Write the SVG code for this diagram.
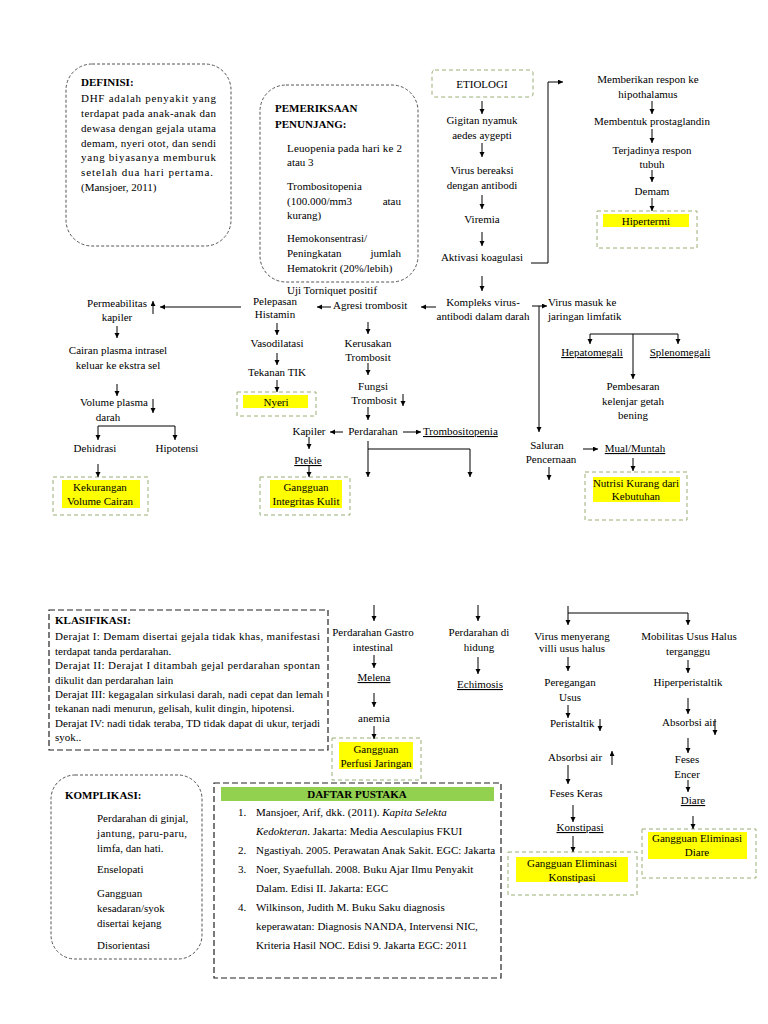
<svg xmlns="http://www.w3.org/2000/svg" width="768" height="1024" viewBox="0 0 768 1024">
<style>
.t{font-family:"Liberation Serif","Times New Roman",serif;font-size:11px;fill:#000}
.c{text-anchor:middle}
.e{text-anchor:end}
.b{font-weight:bold}
.u{text-decoration:underline}
.rb{fill:none;stroke:#555;stroke-dasharray:3 2;stroke-width:1}
.gb{fill:none;stroke:#9aae74;stroke-dasharray:4 3;stroke-width:1}
.kb{fill:none;stroke:#222;stroke-dasharray:6 3;stroke-width:1.2}
.hl{fill:#ffff00}
.ln{fill:none;stroke:#000;stroke-width:1}
.ar{marker-end:url(#ah)}
</style>
<defs>
<marker id="ah" markerWidth="6" markerHeight="6" refX="5" refY="2.5" orient="auto" markerUnits="userSpaceOnUse"><path d="M0,0 L5,2.5 L0,5 z" fill="#000"/></marker>
</defs>
<rect width="768" height="1024" fill="#fff"/>

<g id="definisi">
<rect class="rb" x="66" y="64" width="165" height="182" rx="26"/>
<text class="t b" x="81" y="86">DEFINISI:</text>
<text class="t" x="81" y="102" textLength="135">DHF adalah penyakit yang</text>
<text class="t" x="81" y="117" textLength="135">terdapat pada anak-anak dan</text>
<text class="t" x="81" y="132" textLength="135">dewasa dengan gejala utama</text>
<text class="t" x="81" y="147" textLength="135">demam, nyeri otot, dan sendi</text>
<text class="t" x="81" y="161" textLength="135">yang biyasanya memburuk</text>
<text class="t" x="81" y="176" textLength="132">setelah dua hari pertama.</text>
<text class="t" x="81" y="191">(Mansjoer, 2011)</text>
</g>

<g id="pemeriksaan">
<rect class="rb" x="260" y="85" width="158" height="197" rx="26"/>
<text class="t b" x="275" y="112">PEMERIKSAAN</text>
<text class="t b" x="275" y="128">PENUNJANG:</text>
<text class="t" x="287" y="152" textLength="115">Leuopenia pada hari ke 2</text>
<text class="t" x="287" y="166">atau 3</text>
<text class="t" x="287" y="190">Trombositopenia</text>
<text class="t" x="287" y="205">(100.000/mm3</text>
<text class="t e" x="401" y="205">atau</text>
<text class="t" x="287" y="219">kurang)</text>
<text class="t" x="287" y="242">Hemokonsentrasi/</text>
<text class="t" x="287" y="257">Peningkatan</text>
<text class="t e" x="401" y="257">jumlah</text>
<text class="t" x="287" y="272">Hematokrit (20%/lebih)</text>
</g>

<g id="etiologi">
<rect class="gb" x="432" y="70" width="101" height="27" rx="3"/>
<text class="t c" x="482" y="88">ETIOLOGI</text>
</g>
<g id="gigitan"><text class="t c" x="482" y="124">Gigitan nyamuk</text><text class="t c" x="482" y="139">aedes aygepti</text></g>
<g id="virus-bereaksi"><text class="t c" x="482" y="174">Virus bereaksi</text><text class="t c" x="482" y="189">dengan antibodi</text></g>
<g id="viremia"><text class="t c" x="482" y="223">Viremia</text></g>
<g id="aktivasi"><text class="t c" x="482" y="261">Aktivasi koagulasi</text></g>

<g id="respon-hipothalamus"><text class="t c" x="648" y="83">Memberikan respon ke</text><text class="t c" x="648" y="98">hipothalamus</text></g>
<g id="prostaglandin"><text class="t c" x="652" y="125">Membentuk prostaglandin</text></g>
<g id="respon-tubuh"><text class="t c" x="652" y="154">Terjadinya respon</text><text class="t c" x="652" y="168">tubuh</text></g>
<g id="demam"><text class="t c" x="652" y="195">Demam</text></g>
<g id="hipertermi">
<rect class="gb" x="597" y="211" width="100" height="37"/>
<rect class="hl" x="603" y="214" width="86" height="13"/>
<text class="t c" x="646" y="225">Hipertermi</text>
</g>

<g id="uji"><text class="t" x="287" y="294">Uji Torniquet positif</text></g>
<g id="kompleks"><text class="t c" x="483" y="306">Kompleks virus-</text><text class="t c" x="483" y="320">antibodi dalam darah</text></g>
<g id="agresi"><text class="t" x="333" y="309">Agresi trombosit</text></g>
<g id="pelepasan"><text class="t c" x="275" y="305">Pelepasan</text><text class="t c" x="275" y="318">Histamin</text></g>
<g id="permeabilitas"><text class="t c" x="117" y="307">Permeabilitas</text><text class="t c" x="117" y="321">kapiler</text></g>
<g id="cairan"><text class="t c" x="118" y="354">Cairan plasma intrasel</text><text class="t c" x="118" y="369">keluar ke ekstra sel</text></g>
<g id="volume"><text class="t c" x="114" y="406">Volume plasma</text><text class="t c" x="108" y="421">darah</text></g>
<g id="dehidrasi"><text class="t c" x="95" y="452">Dehidrasi</text></g>
<g id="hipotensi"><text class="t c" x="177" y="452">Hipotensi</text></g>
<g id="kekurangan">
<rect class="gb" x="53" y="477" width="95" height="38"/>
<rect class="hl" x="62" y="480" width="78" height="28"/>
<text class="t c" x="100" y="491">Kekurangan</text>
<text class="t c" x="100" y="505">Volume Cairan</text>
</g>

<g id="vasodilatasi"><text class="t c" x="277" y="347">Vasodilatasi</text></g>
<g id="tekanan"><text class="t c" x="277" y="376">Tekanan TIK</text></g>
<g id="nyeri">
<rect class="gb" x="237" y="392" width="79" height="24"/>
<rect class="hl" x="243" y="395" width="65" height="13"/>
<text class="t c" x="276" y="406">Nyeri</text>
</g>
<g id="kerusakan"><text class="t c" x="368" y="347">Kerusakan</text><text class="t c" x="368" y="361">Trombosit</text></g>
<g id="fungsi"><text class="t c" x="373" y="390">Fungsi</text><text class="t c" x="374" y="404">Trombosit</text></g>
<g id="perdarahan"><text class="t c" x="373" y="435">Perdarahan</text></g>
<g id="kapiler"><text class="t c" x="309" y="435">Kapiler</text></g>
<g id="ptekie"><text class="t c u" x="308" y="464">Ptekie</text></g>
<g id="integritas">
<rect class="gb" x="260" y="477" width="90" height="38"/>
<rect class="hl" x="270" y="480" width="72" height="28"/>
<text class="t c" x="306" y="491">Gangguan</text>
<text class="t c" x="306" y="505">Integritas Kulit</text>
</g>
<g id="trombositopenia"><text class="t u" x="423" y="435">Trombositopenia</text></g>

<g id="virus-limfatik"><text class="t" x="548" y="306">Virus masuk ke</text><text class="t" x="548" y="320">jaringan limfatik</text></g>
<g id="hepatomegali"><text class="t c u" x="592" y="356">Hepatomegali</text></g>
<g id="splenomegali"><text class="t c u" x="680" y="356">Splenomegali</text></g>
<g id="pembesaran"><text class="t c" x="633" y="390">Pembesaran</text><text class="t c" x="633" y="405">kelenjar getah</text><text class="t c" x="633" y="419">bening</text></g>
<g id="saluran"><text class="t c" x="547" y="449">Saluran</text><text class="t c" x="551" y="463">Pencernaan</text></g>
<g id="mual"><text class="t c u" x="635" y="452">Mual/Muntah</text></g>
<g id="nutrisi">
<rect class="gb" x="585" y="472" width="102" height="48"/>
<rect class="hl" x="593" y="477" width="87" height="25"/>
<text class="t c" x="636" y="487">Nutrisi Kurang dari</text>
<text class="t c" x="636" y="500">Kebutuhan</text>
</g>

<g id="klasifikasi">
<rect class="kb" x="49" y="610" width="279" height="140"/>
<text class="t b" x="55" y="624">KLASIFIKASI:</text>
<text class="t" x="55" y="640" textLength="265">Derajat I: Demam disertai gejala tidak khas, manifestasi</text>
<text class="t" x="55" y="655">terdapat tanda perdarahan.</text>
<text class="t" x="55" y="669" textLength="265">Derajat II: Derajat I ditambah gejal perdarahan spontan</text>
<text class="t" x="55" y="684">dikulit dan perdarahan lain</text>
<text class="t" x="55" y="698" textLength="268">Derajat III: kegagalan sirkulasi darah, nadi cepat dan lemah</text>
<text class="t" x="55" y="712">tekanan nadi menurun, gelisah, kulit dingin, hipotensi.</text>
<text class="t" x="55" y="727" textLength="265">Derajat IV: nadi tidak teraba, TD tidak dapat di ukur, terjadi</text>
<text class="t" x="55" y="741">syok..</text>
</g>

<g id="perdarahan-gastro"><text class="t c" x="373" y="636">Perdarahan Gastro</text><text class="t c" x="373" y="651">intestinal</text></g>
<g id="melena"><text class="t c u" x="374" y="681">Melena</text></g>
<g id="anemia"><text class="t c" x="374" y="722">anemia</text></g>
<g id="perfusi">
<rect class="gb" x="332" y="738" width="89" height="42"/>
<rect class="hl" x="339" y="742" width="74" height="27"/>
<text class="t c" x="376" y="753">Gangguan</text>
<text class="t c" x="376" y="767">Perfusi Jaringan</text>
</g>
<g id="perdarahan-hidung"><text class="t c" x="479" y="636">Perdarahan di</text><text class="t c" x="479" y="651">hidung</text></g>
<g id="echimosis"><text class="t c u" x="480" y="688">Echimosis</text></g>

<g id="virus-villi"><text class="t c" x="572" y="640">Virus menyerang</text><text class="t c" x="572" y="652">villi usus halus</text></g>
<g id="peregangan"><text class="t c" x="570" y="686">Peregangan</text><text class="t c" x="570" y="701">Usus</text></g>
<g id="peristaltik"><text class="t" x="550" y="727">Peristaltik</text></g>
<g id="absorbsi1"><text class="t" x="548" y="761">Absorbsi air</text></g>
<g id="feses-keras"><text class="t c" x="576" y="797">Feses Keras</text></g>
<g id="konstipasi"><text class="t c u" x="580" y="831">Konstipasi</text></g>
<g id="elim-konstipasi">
<rect class="gb" x="508" y="852" width="129" height="43"/>
<rect class="hl" x="516" y="857" width="112" height="25"/>
<text class="t c" x="572" y="867">Gangguan Eliminasi</text>
<text class="t c" x="572" y="881">Konstipasi</text>
</g>

<g id="mobilitas"><text class="t c" x="689" y="640">Mobilitas Usus Halus</text><text class="t c" x="688" y="655">terganggu</text></g>
<g id="hiperperistaltik"><text class="t c" x="688" y="686">Hiperperistaltik</text></g>
<g id="absorbsi2"><text class="t" x="662" y="726">Absorbsi air</text></g>
<g id="feses-encer"><text class="t c" x="687" y="763">Feses</text><text class="t c" x="687" y="778">Encer</text></g>
<g id="diare"><text class="t c u" x="693" y="804">Diare</text></g>
<g id="elim-diare">
<rect class="gb" x="642" y="829" width="114" height="49"/>
<rect class="hl" x="648" y="832" width="99" height="27"/>
<text class="t c" x="697" y="842">Gangguan Eliminasi</text>
<text class="t c" x="697" y="856">Diare</text>
</g>

<g id="komplikasi">
<rect class="rb" x="51" y="775" width="151" height="184" rx="24"/>
<text class="t b" x="65" y="799">KOMPLIKASI:</text>
<text class="t" x="97" y="822">Perdarahan di ginjal,</text>
<text class="t" x="97" y="837" textLength="90">jantung, paru-paru,</text>
<text class="t" x="97" y="852">limfa, dan hati.</text>
<text class="t" x="97" y="873">Enselopati</text>
<text class="t" x="97" y="897">Gangguan</text>
<text class="t" x="97" y="912">kesadaran/syok</text>
<text class="t" x="97" y="927">disertai kejang</text>
<text class="t" x="97" y="949">Disorientasi</text>
</g>

<g id="daftar-pustaka">
<rect class="kb" x="214" y="783" width="287" height="195"/>
<rect x="221" y="787" width="273" height="14" fill="#92d050"/>
<text class="t b c" x="357" y="798">DAFTAR PUSTAKA</text>
<text class="t" x="238" y="816">1.</text>
<text class="t" x="256" y="816">Mansjoer, Arif, dkk. (2011). <tspan font-style="italic">Kapita Selekta</tspan></text>
<text class="t" x="256" y="835"><tspan font-style="italic">Kedokteran</tspan>. Jakarta: Media Aesculapius FKUI</text>
<text class="t" x="238" y="854">2.</text>
<text class="t" x="256" y="854">Ngastiyah. 2005. Perawatan Anak Sakit. EGC: Jakarta</text>
<text class="t" x="238" y="873">3.</text>
<text class="t" x="256" y="873">Noer, Syaefullah. 2008. Buku Ajar Ilmu Penyakit</text>
<text class="t" x="256" y="892">Dalam. Edisi II. Jakarta: EGC</text>
<text class="t" x="238" y="911">4.</text>
<text class="t" x="256" y="911">Wilkinson, Judith M. Buku Saku diagnosis</text>
<text class="t" x="256" y="930">keperawatan: Diagnosis NANDA, Intervensi NIC,</text>
<text class="t" x="256" y="949">Kriteria Hasil NOC. Edisi 9. Jakarta EGC: 2011</text>
</g>

<g id="connectors">
<line class="ln ar" x1="482" y1="101" x2="482" y2="114"/>
<line class="ln ar" x1="482" y1="143" x2="482" y2="157"/>
<line class="ln ar" x1="482" y1="195" x2="482" y2="209"/>
<line class="ln ar" x1="482" y1="232" x2="482" y2="246"/>
<polyline class="ln ar" points="531,263 548,263 548,82 563,82"/>
<line class="ln ar" x1="482" y1="276" x2="482" y2="291"/>
<line class="ln ar" x1="652" y1="101" x2="652" y2="114"/>
<line class="ln ar" x1="652" y1="129" x2="652" y2="143"/>
<line class="ln ar" x1="652" y1="170" x2="652" y2="182"/>
<line class="ln ar" x1="652" y1="198" x2="652" y2="211"/>

<line class="ln ar" x1="436" y1="307" x2="421" y2="307"/>
<line class="ln ar" x1="331" y1="307" x2="317" y2="307"/>
<line class="ln ar" x1="241" y1="307" x2="160" y2="307"/>
<line class="ln ar" x1="153" y1="314" x2="153" y2="301"/>
<line class="ln ar" x1="532" y1="306" x2="547" y2="306"/>
<line class="ln ar" x1="539" y1="306" x2="539" y2="432"/>

<line class="ln ar" x1="117" y1="326" x2="117" y2="338"/>
<line class="ln ar" x1="117" y1="384" x2="117" y2="396"/>
<line class="ln ar" x1="153" y1="399" x2="153" y2="413"/>
<line class="ln" x1="98" y1="426" x2="175" y2="426"/>
<line class="ln ar" x1="98" y1="426" x2="98" y2="440"/>
<line class="ln ar" x1="175" y1="426" x2="175" y2="440"/>
<line class="ln ar" x1="98" y1="464" x2="98" y2="477"/>

<line class="ln ar" x1="277" y1="323" x2="277" y2="335"/>
<line class="ln ar" x1="277" y1="353" x2="277" y2="365"/>
<line class="ln ar" x1="277" y1="380" x2="277" y2="392"/>
<line class="ln ar" x1="368" y1="322" x2="368" y2="334"/>
<line class="ln ar" x1="368" y1="363" x2="368" y2="375"/>
<line class="ln ar" x1="403" y1="394" x2="403" y2="406"/>
<line class="ln ar" x1="368" y1="407" x2="368" y2="420"/>
<line class="ln ar" x1="343" y1="432" x2="330" y2="432"/>
<line class="ln ar" x1="309" y1="437" x2="309" y2="449"/>
<line class="ln ar" x1="309" y1="466" x2="309" y2="477"/>
<line class="ln ar" x1="403" y1="432" x2="421" y2="432"/>
<line class="ln ar" x1="368" y1="441" x2="368" y2="477"/>
<polyline class="ln ar" points="368,449 470,449 470,477"/>

<line class="ln" x1="590" y1="334" x2="678" y2="334"/>
<line class="ln ar" x1="590" y1="334" x2="590" y2="344"/>
<line class="ln ar" x1="678" y1="334" x2="678" y2="344"/>
<line class="ln ar" x1="633" y1="334" x2="633" y2="379"/>
<line class="ln ar" x1="583" y1="449" x2="598" y2="449"/>
<line class="ln ar" x1="633" y1="458" x2="633" y2="471"/>
<line class="ln ar" x1="549" y1="467" x2="549" y2="480"/>

<line class="ln ar" x1="374" y1="605" x2="374" y2="621"/>
<line class="ln ar" x1="478" y1="605" x2="478" y2="621"/>
<polyline class="ln" points="568,606 568,613 688,613"/>
<line class="ln ar" x1="568" y1="613" x2="568" y2="625"/>
<line class="ln ar" x1="688" y1="613" x2="688" y2="625"/>

<line class="ln ar" x1="374" y1="655" x2="374" y2="668"/>
<line class="ln ar" x1="374" y1="693" x2="374" y2="707"/>
<line class="ln ar" x1="374" y1="726" x2="374" y2="739"/>
<line class="ln ar" x1="478" y1="657" x2="478" y2="674"/>

<line class="ln ar" x1="568" y1="657" x2="568" y2="671"/>
<line class="ln ar" x1="568" y1="705" x2="568" y2="718"/>
<line class="ln ar" x1="600" y1="719" x2="600" y2="731"/>
<line class="ln ar" x1="612" y1="765" x2="612" y2="751"/>
<line class="ln ar" x1="568" y1="765" x2="568" y2="784"/>
<line class="ln ar" x1="573" y1="805" x2="573" y2="822"/>
<line class="ln ar" x1="573" y1="836" x2="573" y2="852"/>

<line class="ln ar" x1="688" y1="660" x2="688" y2="673"/>
<line class="ln ar" x1="688" y1="698" x2="688" y2="714"/>
<line class="ln ar" x1="715" y1="719" x2="715" y2="735"/>
<line class="ln ar" x1="688" y1="738" x2="688" y2="753"/>
<line class="ln ar" x1="688" y1="780" x2="688" y2="792"/>
<line class="ln ar" x1="693" y1="816" x2="693" y2="829"/>
</g>
</svg>
